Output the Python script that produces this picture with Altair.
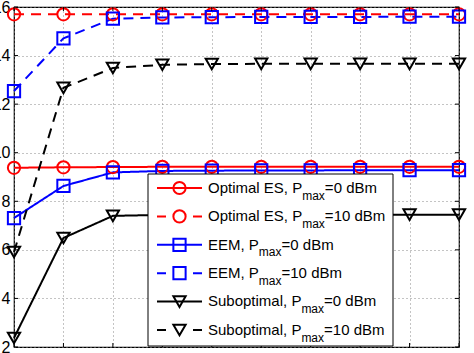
import altair as alt
import pandas as pd

# ---- data ----
x_vals = [1, 2, 3, 4, 5, 6, 7, 8, 9, 10]
opt_es_0 = [9.38, 9.40, 9.41, 9.42, 9.42, 9.42, 9.42, 9.42, 9.42, 9.42]
opt_es_10 = [15.70, 15.70, 15.70, 15.70, 15.70, 15.70, 15.70, 15.70, 15.70, 15.70]
eem_0 = [7.31, 8.63, 9.19, 9.25, 9.26, 9.27, 9.27, 9.28, 9.28, 9.28]
eem_10 = [12.54, 14.71, 15.52, 15.57, 15.58, 15.59, 15.59, 15.59, 15.60, 15.60]
sub_0 = [2.37, 6.49, 7.40, 7.44, 7.45, 7.45, 7.45, 7.45, 7.45, 7.45]
sub_10 = [5.91, 12.67, 13.49, 13.62, 13.65, 13.66, 13.66, 13.66, 13.66, 13.66]
y_ticks = [2, 4, 6, 8, 10, 12, 14, 16]

keys = ["opt0", "opt10", "eem0", "eem10", "sub0", "sub10"]
series = [opt_es_0, opt_es_10, eem_0, eem_10, sub_0, sub_10]
label_main = ["Optimal ES, P", "Optimal ES, P", "EEM, P", "EEM, P", "Suboptimal, P", "Suboptimal, P"]
label_sub = ["max"] * 6
label_tail = ["=0 dBm", "=10 dBm", "=0 dBm", "=10 dBm", "=0 dBm", "=10 dBm"]

colors = ["#ff0000", "#ff0000", "#0000ff", "#0000ff", "#000000", "#000000"]
dashes = [[1, 0], [10, 7], [1, 0], [10, 7], [1, 0], [10, 7]]
shapes = ["circle", "circle", "square", "square", "triangle-down", "triangle-down"]
sizes = [150, 150, 110, 110, 170, 170]

W, H = 445, 340
FONT = "Liberation Sans"

rows = []
for k, s in zip(keys, series):
    for xv, yv in zip(x_vals, s):
        rows.append({"key": k, "x": xv, "v": yv})
df = pd.DataFrame(rows)

# Arial-metric widths for legend text placement
AW = {"O": 778, "p": 556, "t": 278, "i": 222, "m": 833, "a": 556, "l": 222, " ": 278,
      "E": 667, "S": 667, ",": 278, "P": 667, "M": 833, "u": 556, "b": 556, "x": 500,
      "=": 584, "0": 556, "1": 556, "d": 556, "B": 667, "o": 556}


def tw(s, size):
    return sum(AW.get(c, 556) for c in s) * size / 1000.0


leg_rows = []
for i, k in enumerate(keys):
    yc = 188 + 28.4 * i
    x1 = 208
    x2 = x1 + tw(label_main[i], 15)
    x3 = x2 + tw(label_sub[i], 12)
    leg_rows.append({"key": k, "y": yc, "yb": yc + 4.8, "ys": yc + 11.5,
                     "t1": label_main[i], "t2": label_sub[i], "t3": label_tail[i],
                     "x1": x1, "x2": x2, "x3": x3,
                     "solid": k.endswith("0") and not k.endswith("10")})
leg = pd.DataFrame(leg_rows)

color_scale = alt.Scale(domain=keys, range=colors)
shape_scale = alt.Scale(domain=keys, range=shapes)
size_scale = alt.Scale(domain=keys, range=sizes)
dash_scale = alt.Scale(domain=keys, range=dashes)

X = alt.X("x:Q", scale=alt.Scale(domain=[1, 10], nice=False, zero=False),
          axis=alt.Axis(values=x_vals, labels=False, ticks=False, domain=False, title=None,
                        grid=True, gridDash=[1, 3], gridColor="#888888", gridWidth=1))
Y = alt.Y("v:Q", scale=alt.Scale(domain=[2, 16], nice=False, zero=False),
          axis=alt.Axis(values=y_ticks, ticks=False, domain=False, title=None,
                        labelFont=FONT, labelFontSize=16, labelColor="#000000",
                        labelPadding=4, grid=True, gridDash=[1, 3], gridColor="#888888",
                        gridWidth=1))

base = alt.Chart(df)
lines = base.mark_line(strokeWidth=2, clip=False).encode(
    x=X, y=Y,
    color=alt.Color("key:N", scale=color_scale, legend=None),
    strokeDash=alt.StrokeDash("key:N", scale=dash_scale, legend=None),
)
points = base.mark_point(filled=False, strokeWidth=2, clip=False, opacity=1).encode(
    x=X, y=Y,
    color=alt.Color("key:N", scale=color_scale, legend=None),
    shape=alt.Shape("key:N", scale=shape_scale, legend=None),
    size=alt.Size("key:N", scale=size_scale, legend=None),
)

# inward ticks (MATLAB style)
ytk = pd.DataFrame({"v": y_ticks})
xtk = pd.DataFrame({"x": x_vals})
tick_l = alt.Chart(ytk).mark_rule(color="#000000", strokeWidth=1).encode(
    y=alt.Y("v:Q"), x=alt.value(0), x2=alt.value(4))
tick_r = alt.Chart(ytk).mark_rule(color="#000000", strokeWidth=1).encode(
    y=alt.Y("v:Q"), x=alt.value(W - 4), x2=alt.value(W))
tick_b = alt.Chart(xtk).mark_rule(color="#000000", strokeWidth=1).encode(
    x=alt.X("x:Q"), y=alt.value(H - 4), y2=alt.value(H))
tick_t = alt.Chart(xtk).mark_rule(color="#000000", strokeWidth=1).encode(
    x=alt.X("x:Q"), y=alt.value(0), y2=alt.value(4))

# legend box
box = alt.Chart(pd.DataFrame({"a": [0]})).mark_rect(
    fill="#ffffff", stroke="#000000", strokeWidth=1).encode(
    x=alt.value(148 - 14), x2=alt.value(393 - 14), y=alt.value(174 - 7), y2=alt.value(346 - 7))

LX0, LX1, LXM = 157 - 14, 202 - 14, 179.5 - 14
leg_solid = alt.Chart(leg[leg["solid"]]).mark_rule(strokeWidth=2).encode(
    x=alt.value(LX0), x2=alt.value(LX1),
    y=alt.Y("yy:Q", scale=None),
    color=alt.Color("key:N", scale=color_scale, legend=None),
).transform_calculate(yy="datum.y - 7")
leg_dash = alt.Chart(leg[~leg["solid"]]).mark_rule(strokeWidth=2, strokeDash=[9, 27]).encode(
    x=alt.value(LX0), x2=alt.value(LX1),
    y=alt.Y("yy:Q", scale=None),
    color=alt.Color("key:N", scale=color_scale, legend=None),
).transform_calculate(yy="datum.y - 7")
leg_pts = alt.Chart(leg).mark_point(filled=False, strokeWidth=2, opacity=1).encode(
    x=alt.value(LXM),
    y=alt.Y("yy:Q", scale=None),
    color=alt.Color("key:N", scale=color_scale, legend=None),
    shape=alt.Shape("key:N", scale=shape_scale, legend=None),
    size=alt.Size("key:N", scale=size_scale, legend=None),
).transform_calculate(yy="datum.y - 7")

txt1 = alt.Chart(leg).mark_text(font=FONT, fontSize=15, align="left", baseline="alphabetic",
                                color="#000000").encode(
    x=alt.X("xx:Q", scale=None), y=alt.Y("yy:Q", scale=None), text="t1:N"
).transform_calculate(xx="datum.x1 - 14", yy="datum.yb - 7")
txt2 = alt.Chart(leg).mark_text(font=FONT, fontSize=12, align="left", baseline="alphabetic",
                                color="#000000").encode(
    x=alt.X("xx:Q", scale=None), y=alt.Y("yy:Q", scale=None), text="t2:N"
).transform_calculate(xx="datum.x2 - 14", yy="datum.ys - 7")
txt3 = alt.Chart(leg).mark_text(font=FONT, fontSize=15, align="left", baseline="alphabetic",
                                color="#000000").encode(
    x=alt.X("xx:Q", scale=None), y=alt.Y("yy:Q", scale=None), text="t3:N"
).transform_calculate(xx="datum.x3 - 14", yy="datum.yb - 7")

chart = alt.layer(
    lines, points, tick_l, tick_r, tick_b, tick_t,
    box, leg_solid, leg_dash, leg_pts, txt1, txt2, txt3
).properties(
    width=W, height=H,
    autosize=alt.AutoSizeParams(type="none"),
    padding={"left": 14, "top": 7, "right": 15, "bottom": 6},
    background="#ffffff",
).configure_view(
    stroke="#000000", strokeWidth=1.2
)

chart.save("out.html", embed_options={"renderer": "svg", "actions": False})
